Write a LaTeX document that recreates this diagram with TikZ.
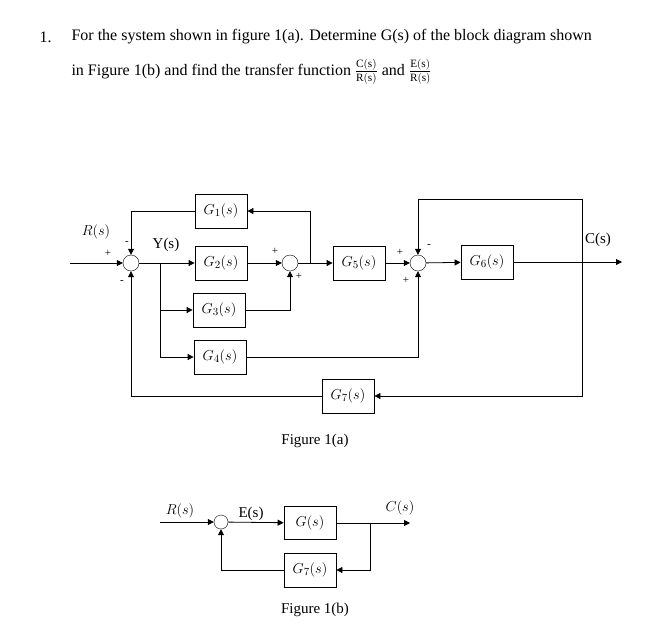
\documentclass[tikz,border=0pt]{standalone}
\usepackage{fontspec}
\setmainfont{Liberation Serif}
\usetikzlibrary{arrows.meta}
\begin{document}
\begin{tikzpicture}[x=1pt,y=-1pt,
  blk/.style={draw,line width=0.8pt,minimum width=52pt,minimum height=34pt,inner sep=0pt,font=\fontsize{15}{15}\selectfont},
  sm/.style={draw,circle,minimum size=16pt,inner sep=0pt},
  sma/.style={draw,circle,minimum size=14pt,inner sep=0pt},
  line/.style={line width=0.8pt},
  arr/.style={line width=0.8pt,-{Triangle[length=6pt,width=6pt]}},
  lab/.style={font=\fontsize{15}{15}\selectfont},
  sg/.style={font=\fontsize{11}{11}\selectfont,inner sep=0pt}]
\useasboundingbox (0,0) rectangle (661,641);
% header
\node[anchor=west,font=\fontsize{16}{16}\selectfont] (num) at (36,37) {1.};
\node[anchor=west,font=\fontsize{16}{16}\selectfont] (t1) at (68,37) {For the system shown in figure 1(a). Determine G(s) of the block diagram shown};
\node[anchor=west,font=\fontsize{16}{16}\selectfont] (t2) at (68,72) {in Figure 1(b) and find the transfer function $\frac{\mathrm{C(s)}}{\mathrm{R(s)}}$ and $\frac{\mathrm{E(s)}}{\mathrm{R(s)}}$};
% figure 1(a)
\node[sm] (s1) at (131,263) {};
\node[sm] (s2) at (290,263) {};
\node[sm] (s3) at (418,263) {};
\node[blk] (g1) at (221,211) {$G_1(s)$};
\node[blk] (g2) at (221,263) {$G_2(s)$};
\node[blk] (g3) at (219,310) {$G_3(s)$};
\node[blk] (g4) at (220,357) {$G_4(s)$};
\node[blk] (g5) at (359,263) {$G_5(s)$};
\node[blk] (g6) at (487,262) {$G_6(s)$};
\node[blk] (g7) at (348,396) {$G_7(s)$};
\coordinate (in) at (70,263);
\coordinate (yb) at (160,263);
\coordinate (b2) at (310,263);
\coordinate (cb) at (582,262);
\coordinate (out) at (622,262);
\draw[arr] (in) -- (s1);
\draw[arr] (s1) -- (g2);
\draw[arr] (yb) |- (g3);
\draw[arr] (yb) |- (g4);
\draw[arr] (g2) -- (s2);
\draw[arr] (g3) -| (s2);
\draw[arr] (s2) -- (g5);
\draw[arr] (b2) |- (g1);
\draw[arr] (g1) -| (s1);
\draw[arr] (g5) -- (s3);
\draw[arr] (g4) -| (s3);
\draw[arr] (s3) -- (g6);
\draw[arr] (g6) -- (out);
\draw[arr] (cb) |- (418,199) -- (s3);
\draw[arr] (cb) |- (g7);
\draw[arr] (g7) -| (s1);
\node[lab] (lr) at (96,232) {$R(s)$};
\node[lab] (ly) at (166,245) {Y(s)};
\node[lab] (lc) at (598,240) {C(s)};
\node[sg] (p1) at (108,253) {+};
\node[sg] (m1) at (127,243) {-};
\node[sg] (m2) at (122,282) {-};
\node[sg] (p2) at (275,251) {+};
\node[sg] (p3) at (299,276) {+};
\node[sg] (p4) at (400,252) {+};
\node[sg] (p5) at (406,280) {+};
\node[sg] (m3) at (429,246) {-};
\node[lab] (fa) at (315,441) {Figure 1(a)};
% figure 1(b)
\node[sma] (sb) at (221,522) {};
\node[blk,minimum height=33pt] (g) at (310,523) {$G(s)$};
\node[blk] (g7b) at (310,570) {$G_7(s)$};
\coordinate (inb) at (160,522);
\coordinate (bb) at (370,523);
\coordinate (outb) at (410,523);
\draw[arr] (inb) -- (sb);
\draw[arr] (sb) -- (g);
\draw[arr] (g) -- (outb);
\draw[arr] (bb) |- (g7b);
\draw[arr] (g7b) -| (sb);
\node[lab] (lrb) at (180,511) {$R(s)$};
\node[lab] (leb) at (251,514) {E(s)};
\node[lab] (lcb) at (400,508) {$C(s)$};
\node[lab] (fb) at (315,610) {Figure 1(b)};
\end{tikzpicture}
\end{document}
